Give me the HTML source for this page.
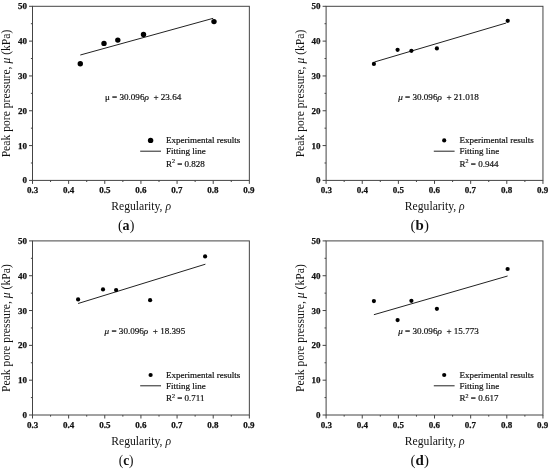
<!DOCTYPE html>
<html><head><meta charset="utf-8"><title>Figure</title>
<style>
html,body{margin:0;padding:0;background:#fff;}
svg{display:block;font-family:"Liberation Serif","Times New Roman",serif;fill:#111;}
.tk{font-size:9px;font-weight:bold;stroke:#111;stroke-width:0.25px;}
.ax{font-size:11.65px;}
.lg{font-size:9px;stroke:#111;stroke-width:0.2px;}
.eq{font-size:9.1px;stroke:#111;stroke-width:0.2px;}
.cap{font-size:14.5px;}
</style></head><body>
<svg width="550" height="470" viewBox="0 0 550 470">
<rect x="0" y="0" width="550" height="470" fill="#ffffff"/>

<g id="panel-a">
<rect x="32.50" y="6.30" width="216.85" height="174.10" fill="none" stroke="#444" stroke-width="1"/>
<path d="M32.50 180.40v3.5M50.57 180.40v1.6M68.64 180.40v3.5M86.71 180.40v1.6M104.78 180.40v3.5M122.85 180.40v1.6M140.93 180.40v3.5M159.00 180.40v1.6M177.07 180.40v3.5M195.14 180.40v1.6M213.21 180.40v3.5M231.28 180.40v1.6M249.35 180.40v3.5M32.50 180.40h-3.5M32.50 162.99h-1.6M32.50 145.58h-3.5M32.50 128.17h-1.6M32.50 110.76h-3.5M32.50 93.35h-1.6M32.50 75.94h-3.5M32.50 58.53h-1.6M32.50 41.12h-3.5M32.50 23.71h-1.6M32.50 6.30h-3.5" stroke="#444" stroke-width="1" fill="none"/>
<text class="tk" x="32.70" y="193.30" text-anchor="middle">0.3</text>
<text class="tk" x="68.74" y="193.30" text-anchor="middle">0.4</text>
<text class="tk" x="104.78" y="193.30" text-anchor="middle">0.5</text>
<text class="tk" x="140.82" y="193.30" text-anchor="middle">0.6</text>
<text class="tk" x="176.87" y="193.30" text-anchor="middle">0.7</text>
<text class="tk" x="212.91" y="193.30" text-anchor="middle">0.8</text>
<text class="tk" x="248.95" y="193.30" text-anchor="middle">0.9</text>
<text class="tk" x="27.00" y="183.40" text-anchor="end">0</text>
<text class="tk" x="27.00" y="148.58" text-anchor="end">10</text>
<text class="tk" x="27.00" y="113.76" text-anchor="end">20</text>
<text class="tk" x="27.00" y="78.94" text-anchor="end">30</text>
<text class="tk" x="27.00" y="44.12" text-anchor="end">40</text>
<text class="tk" x="27.00" y="9.30" text-anchor="end">50</text>
<text class="ax" x="141.12" y="210.20" text-anchor="middle">Regularity, <tspan font-style="italic">ρ</tspan></text>
<text class="ax" transform="translate(10.20 93.50) rotate(-90)" text-anchor="middle">Peak pore pressure, <tspan font-style="italic">μ</tspan> (kPa)</text>
<line x1="80.3" y1="55.0" x2="213.2" y2="18.3" stroke="#222" stroke-width="1"/>
<circle cx="80.3" cy="63.7" r="2.7" fill="#000"/>
<circle cx="104.0" cy="43.4" r="2.7" fill="#000"/>
<circle cx="117.8" cy="40.1" r="2.7" fill="#000"/>
<circle cx="143.5" cy="34.5" r="2.7" fill="#000"/>
<circle cx="214.0" cy="21.6" r="2.7" fill="#000"/>
<text class="eq" x="104.90" y="99.80" style="white-space:pre">μ = 30.096<tspan font-style="italic">ρ</tspan>  + 23.64</text>
<circle cx="150.60" cy="140.40" r="2.7" fill="#000"/>
<line x1="140.20" y1="151.20" x2="161.00" y2="151.20" stroke="#222" stroke-width="1"/>
<text class="lg" x="166.00" y="143.20">Experimental results</text>
<text class="lg" x="166.00" y="154.20">Fitting line</text>
<text class="lg" x="166.00" y="166.80">R<tspan font-size="6px" dy="-3.5">2</tspan><tspan dy="3.5"> = 0.828</tspan></text>
<text class="cap" transform="translate(126.13 230.20) scale(0.97 1)" text-anchor="middle">(<tspan font-weight="bold">a</tspan>)</text>
</g>
<g id="panel-b">
<rect x="326.10" y="6.30" width="216.85" height="174.10" fill="none" stroke="#444" stroke-width="1"/>
<path d="M326.10 180.40v3.5M344.17 180.40v1.6M362.24 180.40v3.5M380.31 180.40v1.6M398.38 180.40v3.5M416.45 180.40v1.6M434.53 180.40v3.5M452.60 180.40v1.6M470.67 180.40v3.5M488.74 180.40v1.6M506.81 180.40v3.5M524.88 180.40v1.6M542.95 180.40v3.5M326.10 180.40h-3.5M326.10 162.99h-1.6M326.10 145.58h-3.5M326.10 128.17h-1.6M326.10 110.76h-3.5M326.10 93.35h-1.6M326.10 75.94h-3.5M326.10 58.53h-1.6M326.10 41.12h-3.5M326.10 23.71h-1.6M326.10 6.30h-3.5" stroke="#444" stroke-width="1" fill="none"/>
<text class="tk" x="326.30" y="193.30" text-anchor="middle">0.3</text>
<text class="tk" x="362.34" y="193.30" text-anchor="middle">0.4</text>
<text class="tk" x="398.38" y="193.30" text-anchor="middle">0.5</text>
<text class="tk" x="434.43" y="193.30" text-anchor="middle">0.6</text>
<text class="tk" x="470.47" y="193.30" text-anchor="middle">0.7</text>
<text class="tk" x="506.51" y="193.30" text-anchor="middle">0.8</text>
<text class="tk" x="542.55" y="193.30" text-anchor="middle">0.9</text>
<text class="tk" x="320.60" y="183.40" text-anchor="end">0</text>
<text class="tk" x="320.60" y="148.58" text-anchor="end">10</text>
<text class="tk" x="320.60" y="113.76" text-anchor="end">20</text>
<text class="tk" x="320.60" y="78.94" text-anchor="end">30</text>
<text class="tk" x="320.60" y="44.12" text-anchor="end">40</text>
<text class="tk" x="320.60" y="9.30" text-anchor="end">50</text>
<text class="ax" x="434.73" y="210.20" text-anchor="middle">Regularity, <tspan font-style="italic">ρ</tspan></text>
<text class="ax" transform="translate(303.80 93.50) rotate(-90)" text-anchor="middle">Peak pore pressure, <tspan font-style="italic">μ</tspan> (kPa)</text>
<line x1="374.4" y1="62.0" x2="506.2" y2="23.0" stroke="#222" stroke-width="1"/>
<circle cx="373.9" cy="63.9" r="2.1" fill="#000"/>
<circle cx="397.6" cy="49.8" r="2.1" fill="#000"/>
<circle cx="411.4" cy="50.8" r="2.1" fill="#000"/>
<circle cx="436.9" cy="48.4" r="2.1" fill="#000"/>
<circle cx="507.7" cy="20.8" r="2.1" fill="#000"/>
<text class="eq" x="398.20" y="99.80" style="white-space:pre"><tspan font-style="italic">μ</tspan> = 30.096<tspan font-style="italic">ρ</tspan>  + 21.018</text>
<circle cx="444.20" cy="140.40" r="2.1" fill="#000"/>
<line x1="433.80" y1="151.20" x2="454.60" y2="151.20" stroke="#222" stroke-width="1"/>
<text class="lg" x="459.60" y="143.20">Experimental results</text>
<text class="lg" x="459.60" y="154.20">Fitting line</text>
<text class="lg" x="459.60" y="166.80">R<tspan font-size="6px" dy="-3.5">2</tspan><tspan dy="3.5"> = 0.944</tspan></text>
<text class="cap" transform="translate(419.73 230.20) scale(1.03 1)" text-anchor="middle">(<tspan font-weight="bold">b</tspan>)</text>
</g>
<g id="panel-c">
<rect x="32.50" y="240.90" width="216.85" height="174.10" fill="none" stroke="#444" stroke-width="1"/>
<path d="M32.50 415.00v3.5M50.57 415.00v1.6M68.64 415.00v3.5M86.71 415.00v1.6M104.78 415.00v3.5M122.85 415.00v1.6M140.93 415.00v3.5M159.00 415.00v1.6M177.07 415.00v3.5M195.14 415.00v1.6M213.21 415.00v3.5M231.28 415.00v1.6M249.35 415.00v3.5M32.50 415.00h-3.5M32.50 397.59h-1.6M32.50 380.18h-3.5M32.50 362.77h-1.6M32.50 345.36h-3.5M32.50 327.95h-1.6M32.50 310.54h-3.5M32.50 293.13h-1.6M32.50 275.72h-3.5M32.50 258.31h-1.6M32.50 240.90h-3.5" stroke="#444" stroke-width="1" fill="none"/>
<text class="tk" x="32.70" y="427.90" text-anchor="middle">0.3</text>
<text class="tk" x="68.74" y="427.90" text-anchor="middle">0.4</text>
<text class="tk" x="104.78" y="427.90" text-anchor="middle">0.5</text>
<text class="tk" x="140.82" y="427.90" text-anchor="middle">0.6</text>
<text class="tk" x="176.87" y="427.90" text-anchor="middle">0.7</text>
<text class="tk" x="212.91" y="427.90" text-anchor="middle">0.8</text>
<text class="tk" x="248.95" y="427.90" text-anchor="middle">0.9</text>
<text class="tk" x="27.00" y="418.00" text-anchor="end">0</text>
<text class="tk" x="27.00" y="383.18" text-anchor="end">10</text>
<text class="tk" x="27.00" y="348.36" text-anchor="end">20</text>
<text class="tk" x="27.00" y="313.54" text-anchor="end">30</text>
<text class="tk" x="27.00" y="278.72" text-anchor="end">40</text>
<text class="tk" x="27.00" y="243.90" text-anchor="end">50</text>
<text class="ax" x="141.12" y="444.80" text-anchor="middle">Regularity, <tspan font-style="italic">ρ</tspan></text>
<text class="ax" transform="translate(10.20 328.10) rotate(-90)" text-anchor="middle">Peak pore pressure, <tspan font-style="italic">μ</tspan> (kPa)</text>
<line x1="78.1" y1="303.5" x2="205.4" y2="264.2" stroke="#222" stroke-width="1"/>
<circle cx="78.1" cy="299.4" r="2.1" fill="#000"/>
<circle cx="103.0" cy="289.4" r="2.1" fill="#000"/>
<circle cx="116.1" cy="290.1" r="2.1" fill="#000"/>
<circle cx="150.1" cy="300.2" r="2.1" fill="#000"/>
<circle cx="205.1" cy="256.4" r="2.1" fill="#000"/>
<text class="eq" x="104.60" y="334.40" style="white-space:pre"><tspan font-style="italic">μ</tspan> = 30.096<tspan font-style="italic">ρ</tspan>  + 18.395</text>
<circle cx="150.60" cy="375.00" r="2.1" fill="#000"/>
<line x1="140.20" y1="385.80" x2="161.00" y2="385.80" stroke="#222" stroke-width="1"/>
<text class="lg" x="166.00" y="377.80">Experimental results</text>
<text class="lg" x="166.00" y="388.80">Fitting line</text>
<text class="lg" x="166.00" y="401.40">R<tspan font-size="6px" dy="-3.5">2</tspan><tspan dy="3.5"> = 0.711</tspan></text>
<text class="cap" transform="translate(126.13 464.80) scale(0.93 1)" text-anchor="middle">(<tspan font-weight="bold">c</tspan>)</text>
</g>
<g id="panel-d">
<rect x="326.10" y="240.90" width="216.85" height="174.10" fill="none" stroke="#444" stroke-width="1"/>
<path d="M326.10 415.00v3.5M344.17 415.00v1.6M362.24 415.00v3.5M380.31 415.00v1.6M398.38 415.00v3.5M416.45 415.00v1.6M434.53 415.00v3.5M452.60 415.00v1.6M470.67 415.00v3.5M488.74 415.00v1.6M506.81 415.00v3.5M524.88 415.00v1.6M542.95 415.00v3.5M326.10 415.00h-3.5M326.10 397.59h-1.6M326.10 380.18h-3.5M326.10 362.77h-1.6M326.10 345.36h-3.5M326.10 327.95h-1.6M326.10 310.54h-3.5M326.10 293.13h-1.6M326.10 275.72h-3.5M326.10 258.31h-1.6M326.10 240.90h-3.5" stroke="#444" stroke-width="1" fill="none"/>
<text class="tk" x="326.30" y="427.90" text-anchor="middle">0.3</text>
<text class="tk" x="362.34" y="427.90" text-anchor="middle">0.4</text>
<text class="tk" x="398.38" y="427.90" text-anchor="middle">0.5</text>
<text class="tk" x="434.43" y="427.90" text-anchor="middle">0.6</text>
<text class="tk" x="470.47" y="427.90" text-anchor="middle">0.7</text>
<text class="tk" x="506.51" y="427.90" text-anchor="middle">0.8</text>
<text class="tk" x="542.55" y="427.90" text-anchor="middle">0.9</text>
<text class="tk" x="320.60" y="418.00" text-anchor="end">0</text>
<text class="tk" x="320.60" y="383.18" text-anchor="end">10</text>
<text class="tk" x="320.60" y="348.36" text-anchor="end">20</text>
<text class="tk" x="320.60" y="313.54" text-anchor="end">30</text>
<text class="tk" x="320.60" y="278.72" text-anchor="end">40</text>
<text class="tk" x="320.60" y="243.90" text-anchor="end">50</text>
<text class="ax" x="434.73" y="444.80" text-anchor="middle">Regularity, <tspan font-style="italic">ρ</tspan></text>
<text class="ax" transform="translate(303.80 328.10) rotate(-90)" text-anchor="middle">Peak pore pressure, <tspan font-style="italic">μ</tspan> (kPa)</text>
<line x1="373.9" y1="314.7" x2="507.6" y2="276.0" stroke="#222" stroke-width="1"/>
<circle cx="373.9" cy="301.1" r="2.1" fill="#000"/>
<circle cx="397.6" cy="320.1" r="2.1" fill="#000"/>
<circle cx="411.4" cy="300.8" r="2.1" fill="#000"/>
<circle cx="436.9" cy="308.8" r="2.1" fill="#000"/>
<circle cx="507.6" cy="269.0" r="2.1" fill="#000"/>
<text class="eq" x="398.20" y="334.40" style="white-space:pre"><tspan font-style="italic">μ</tspan> = 30.096<tspan font-style="italic">ρ</tspan>  + 15.773</text>
<circle cx="444.20" cy="375.00" r="2.1" fill="#000"/>
<line x1="433.80" y1="385.80" x2="454.60" y2="385.80" stroke="#222" stroke-width="1"/>
<text class="lg" x="459.60" y="377.80">Experimental results</text>
<text class="lg" x="459.60" y="388.80">Fitting line</text>
<text class="lg" x="459.60" y="401.40">R<tspan font-size="6px" dy="-3.5">2</tspan><tspan dy="3.5"> = 0.617</tspan></text>
<text class="cap" transform="translate(419.73 464.80) scale(1.03 1)" text-anchor="middle">(<tspan font-weight="bold">d</tspan>)</text>
</g>
</svg>
</body></html>
